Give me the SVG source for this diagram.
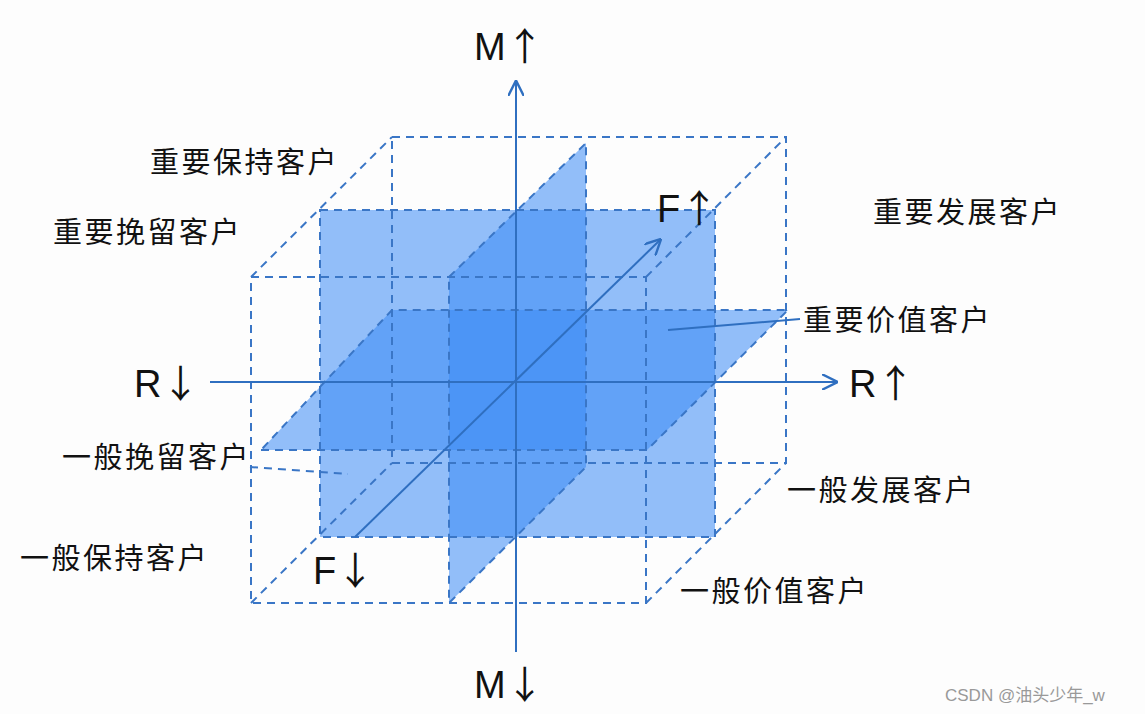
<svg xmlns="http://www.w3.org/2000/svg" width="1145" height="714" viewBox="0 0 1145 714">
<defs>
<style>
.pl{fill:#3a8af5;fill-opacity:0.55}
.d{fill:none;stroke:#3a76c6;stroke-width:2;stroke-dasharray:8 6}
.ax{stroke:#2f6fc0;stroke-width:2;fill:none}
.lb{font-family:"Noto Sans CJK SC","Liberation Sans",sans-serif;font-size:29px;fill:#111;letter-spacing:2.5px}
.al{font-family:"Liberation Sans","Noto Sans CJK SC",sans-serif;font-size:38px;fill:#111}
.arw{font-family:"Noto Sans CJK SC",sans-serif;font-size:38px}
</style>
<marker id="ar" viewBox="0 0 10 10" refX="9" refY="5" markerWidth="8" markerHeight="8" orient="auto"><path d="M0,0 L10,5 L0,10" fill="none" stroke="#2f6fc0" stroke-width="1.5"/></marker>
</defs>
<rect width="1145" height="714" fill="#fdfdfd"/>
<g id="planes">
<rect class="pl" x="320" y="210" width="395" height="327"/>
<polygon class="pl" points="261,450 647,450 788,310 392,310"/>
<polygon class="pl" points="449,277 586,143 586,467 449,603"/>
</g>
<g id="cube">
<rect class="d" x="392" y="137" width="394" height="326"/>
<rect class="d" x="251" y="277" width="395" height="326"/>
<path class="d" d="M251,277 L392,137 M646,277 L786,137 M646,603 L786,463 M251,603 L392,463"/>
<rect class="d" x="320" y="210" width="395" height="327"/>
<path class="d" d="M261,450 L647,450 L788,310 L392,310 Z M449,277 L586,143 L586,467 L449,603 Z"/>
</g>
<g id="connectors">
<line class="ax" x1="516" y1="652" x2="516" y2="82" marker-end="url(#ar)"/>
<line class="ax" x1="210" y1="382" x2="836" y2="382" marker-end="url(#ar)"/>
<line class="ax" x1="355" y1="537" x2="660" y2="240" marker-end="url(#ar)"/>
<line class="ax" x1="668" y1="330" x2="800" y2="319"/>
<line class="d" x1="250" y1="467" x2="348" y2="474"/>
</g>
<g id="axis-labels">
<text class="al" x="474" y="60">M<tspan class="arw">↑</tspan></text>
<text class="al" x="474" y="698">M<tspan class="arw">↓</tspan></text>
<text class="al" x="134" y="397">R<tspan class="arw">↓</tspan></text>
<text class="al" x="849" y="397">R<tspan class="arw">↑</tspan></text>
<text class="al" x="657" y="222">F<tspan class="arw">↑</tspan></text>
<text class="al" x="313" y="584">F<tspan class="arw">↓</tspan></text>
</g>
<g id="labels">
<text class="lb" x="150" y="173">重要保持客户</text>
<text class="lb" x="53" y="243">重要挽留客户</text>
<text class="lb" x="873" y="223">重要发展客户</text>
<text class="lb" x="803" y="331">重要价值客户</text>
<text class="lb" x="62" y="468">一般挽留客户</text>
<text class="lb" x="787" y="501">一般发展客户</text>
<text class="lb" x="20" y="569">一般保持客户</text>
<text class="lb" x="680" y="602">一般价值客户</text>
</g>
<text x="945" y="701" style="font-family:'Liberation Sans','Noto Sans CJK SC',sans-serif;font-size:17px;fill:#999">CSDN @油头少年_w</text>
</svg>
